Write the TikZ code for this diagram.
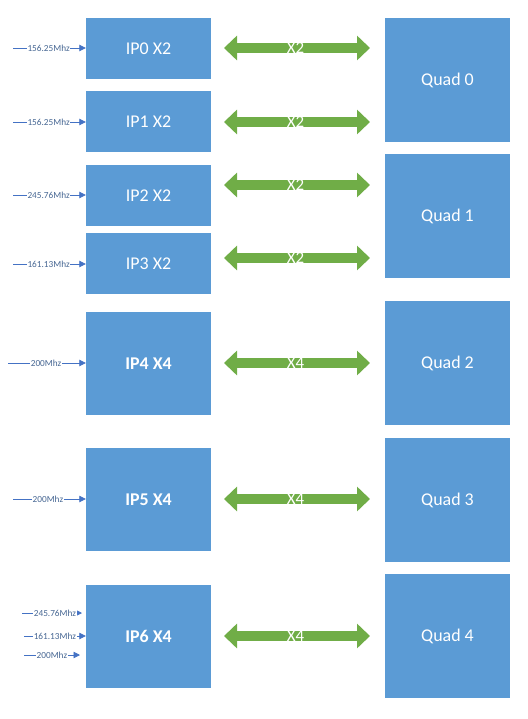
\documentclass[tikz,border=0pt]{standalone}
\usepackage{fontspec}
\setmainfont{Carlito}
\usetikzlibrary{arrows.meta}
\definecolor{boxblue}{RGB}{91,155,213}
\definecolor{arrgreen}{RGB}{112,173,71}
\definecolor{clkblue}{RGB}{68,114,196}
\definecolor{clktext}{RGB}{72,104,148}
\tikzset{
  ipbox/.style={fill=boxblue, draw=none, text=white, minimum width=125bp, inner sep=0,
    font=\fontsize{18}{20}\selectfont},
  quadbox/.style={fill=boxblue, draw=none, text=white, minimum width=125bp, minimum height=124bp,
    inner sep=0, font=\fontsize{18}{20}\selectfont},
  linkarrow/.style={draw=arrgreen, line width=10bp,
    {Triangle[length=13bp,width=24bp]}-{Triangle[length=13bp,width=24bp]}},
  linklbl/.style={text=white, font=\fontsize{17}{20}\selectfont, inner sep=0},
  clk/.style={draw=clkblue, line width=0.8bp, -{Triangle[length=6.5bp,width=6.5bp]}},
  clklbl/.style={fill=white, text=clktext, inner sep=0.6bp, font=\fontsize{9.3}{10}\selectfont},
}
\begin{document}
\begin{tikzpicture}[x=1bp,y=-1bp]
\useasboundingbox (0,0) rectangle (528,719);
% IP boxes
\node[ipbox, minimum height=61bp] (ip0) at (148.5,48.5) {IP0 X2};
\node[ipbox, minimum height=61bp] (ip1) at (148.5,121.5) {IP1 X2};
\node[ipbox, minimum height=61bp] (ip2) at (148.5,195.5) {IP2 X2};
\node[ipbox, minimum height=61bp] (ip3) at (148.5,263.5) {IP3 X2};
\node[ipbox, minimum height=103bp] (ip4) at (148.5,363.5) {\bfseries IP4 X4};
\node[ipbox, minimum height=103bp] (ip5) at (148.5,499.5) {\bfseries IP5 X4};
\node[ipbox, minimum height=103bp] (ip6) at (148.5,636.5) {\bfseries IP6 X4};
% Quads
\node[quadbox] (q0) at (447.5,80) {Quad 0};
\node[quadbox] (q1) at (447.5,216) {Quad 1};
\node[quadbox] (q2) at (447.5,363) {Quad 2};
\node[quadbox] (q3) at (447.5,500) {Quad 3};
\node[quadbox] (q4) at (447.5,636) {Quad 4};
% Links
\foreach \i/\y/\t in {0/48/X2,1/122/X2,2/185/X2,3/258/X2,4/363/X4,5/499/X4,6/636/X4}{
  \coordinate (la\i) at (224,\y);
  \coordinate (ra\i) at (370,\y);
  \draw[linkarrow] (la\i) -- (ra\i) node[linklbl, pos=0.49] (l\i) {\t};
}
% clocks
\coordinate (s0) at (13,48);
\coordinate (s1) at (13,122);
\coordinate (s2) at (13,195);
\coordinate (s3) at (13,264);
\coordinate (s4) at (8,363);
\coordinate (s5) at (13,499);
\coordinate (s6a) at (22,613);
\coordinate (e6a) at (82,613);
\coordinate (s6b) at (24,636);
\coordinate (s6c) at (24,655);
\coordinate (e6c) at (80,655);
\draw[clk] (s0) -- (s0 -| ip0.west) node[clklbl, pos=0.49] {156.25Mhz};
\draw[clk] (s1) -- (s1 -| ip1.west) node[clklbl, pos=0.49] {156.25Mhz};
\draw[clk] (s2) -- (s2 -| ip2.west) node[clklbl, pos=0.49] {245.76Mhz};
\draw[clk] (s3) -- (s3 -| ip3.west) node[clklbl, pos=0.49] {161.13Mhz};
\draw[clk] (s4) -- (s4 -| ip4.west) node[clklbl, pos=0.49] {200Mhz};
\draw[clk] (s5) -- (s5 -| ip5.west) node[clklbl, pos=0.48] {200Mhz};
\draw[clk] (s6a) -- (e6a) node[clklbl, pos=0.55] {245.76Mhz};
\draw[clk] (s6b) -- (s6b -| ip6.west) node[clklbl, pos=0.5] {161.13Mhz};
\draw[clk] (s6c) -- (e6c) node[clklbl, pos=0.5] {200Mhz};
\end{tikzpicture}
\end{document}
